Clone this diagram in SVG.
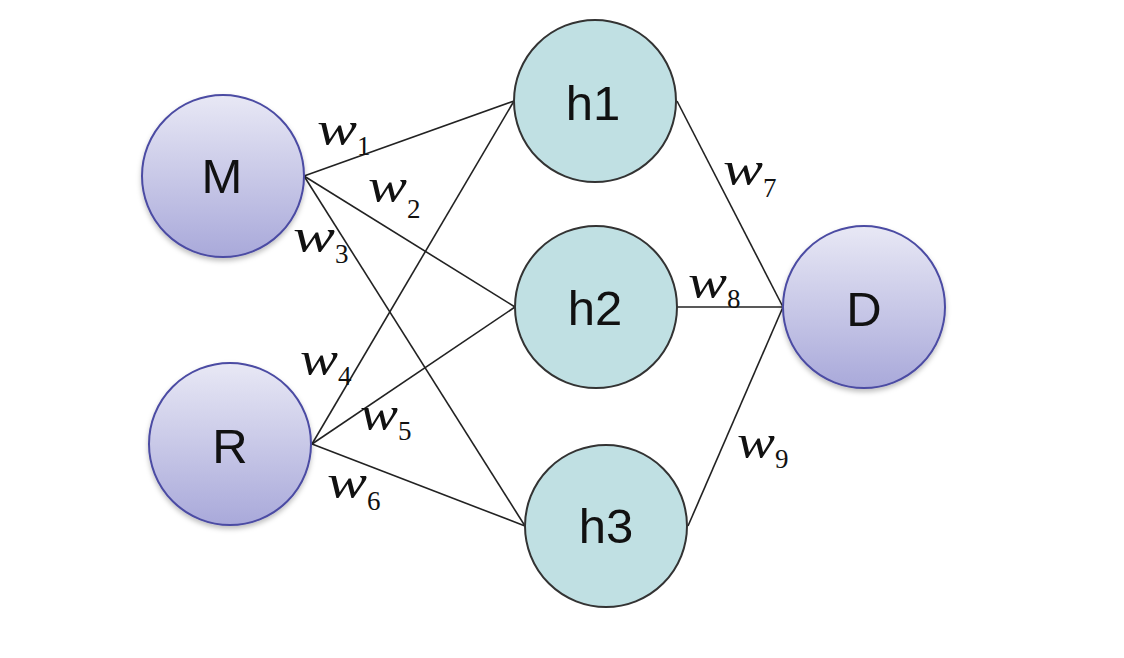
<svg xmlns="http://www.w3.org/2000/svg" width="1124" height="658" viewBox="0 0 1124 658">
<defs>
<linearGradient id="pg" x1="0" y1="0" x2="0" y2="1">
<stop offset="0" stop-color="#e8e8f5"/>
<stop offset="1" stop-color="#a9a9da"/>
</linearGradient>
<filter id="sh" x="-20%" y="-20%" width="140%" height="150%">
<feDropShadow dx="0" dy="3" stdDeviation="2.5" flood-color="#000" flood-opacity="0.25"/>
</filter>
</defs>
<style>
.io{fill:url(#pg);stroke:#4b4ba3;stroke-width:2}
.hid{fill:#c0e0e3;stroke:#333;stroke-width:2}
.nl{font-family:"Liberation Sans",Arial,sans-serif;font-size:49px;fill:#111;text-anchor:middle}
.w{font-family:"Liberation Serif","DejaVu Serif",serif;font-style:italic;font-size:48px;fill:#111}
.s{font-family:"Liberation Serif","DejaVu Serif",serif;font-size:27px;fill:#111}
.c{stroke:#222;stroke-width:1.6;fill:none}
</style>
<rect width="1124" height="658" fill="#fff"/>
<g id="connectors">
<line class="c" x1="304" y1="176" x2="514" y2="101"/>
<line class="c" x1="304" y1="176" x2="515" y2="307"/>
<line class="c" x1="304" y1="176" x2="525" y2="526"/>
<line class="c" x1="312" y1="444" x2="514" y2="101"/>
<line class="c" x1="312" y1="444" x2="515" y2="307"/>
<line class="c" x1="312" y1="444" x2="525" y2="526"/>
<line class="c" x1="677" y1="101" x2="783" y2="307"/>
<line class="c" x1="677" y1="307" x2="783" y2="307"/>
<line class="c" x1="688" y1="526" x2="783" y2="307"/>
</g>
<g id="labels">
<text class="w" x="317" y="145" textLength="40" lengthAdjust="spacingAndGlyphs">w</text><text class="s" x="357" y="155">1</text>
<text class="w" x="368" y="202" textLength="39" lengthAdjust="spacingAndGlyphs">w</text><text class="s" x="407" y="218">2</text>
<text class="w" x="293" y="252" textLength="42" lengthAdjust="spacingAndGlyphs">w</text><text class="s" x="335" y="263">3</text>
<text class="w" x="300" y="375" textLength="38" lengthAdjust="spacingAndGlyphs">w</text><text class="s" x="338" y="385">4</text>
<text class="w" x="360" y="430" textLength="38" lengthAdjust="spacingAndGlyphs">w</text><text class="s" x="398" y="440">5</text>
<text class="w" x="327" y="498" textLength="40" lengthAdjust="spacingAndGlyphs">w</text><text class="s" x="367" y="510">6</text>
<text class="w" x="723" y="185" textLength="40" lengthAdjust="spacingAndGlyphs">w</text><text class="s" x="763" y="197">7</text>
<text class="w" x="688" y="298" textLength="39" lengthAdjust="spacingAndGlyphs">w</text><text class="s" x="727" y="308">8</text>
<text class="w" x="737" y="458" textLength="38" lengthAdjust="spacingAndGlyphs">w</text><text class="s" x="775" y="468">9</text>
</g>
<g id="node-M"><circle class="io" cx="223" cy="176" r="81" filter="url(#sh)"/><text class="nl" x="222" y="193">M</text></g>
<g id="node-R"><circle class="io" cx="230" cy="444" r="81" filter="url(#sh)"/><text class="nl" x="230" y="463">R</text></g>
<g id="node-h1"><circle class="hid" cx="595" cy="101" r="81"/><text class="nl" x="593" y="120">h1</text></g>
<g id="node-h2"><circle class="hid" cx="596" cy="307" r="81"/><text class="nl" x="595" y="325">h2</text></g>
<g id="node-h3"><circle class="hid" cx="606" cy="526" r="81"/><text class="nl" x="606" y="543">h3</text></g>
<g id="node-D"><circle class="io" cx="864" cy="307" r="81" filter="url(#sh)"/><text class="nl" x="864" y="326">D</text></g>
</svg>
